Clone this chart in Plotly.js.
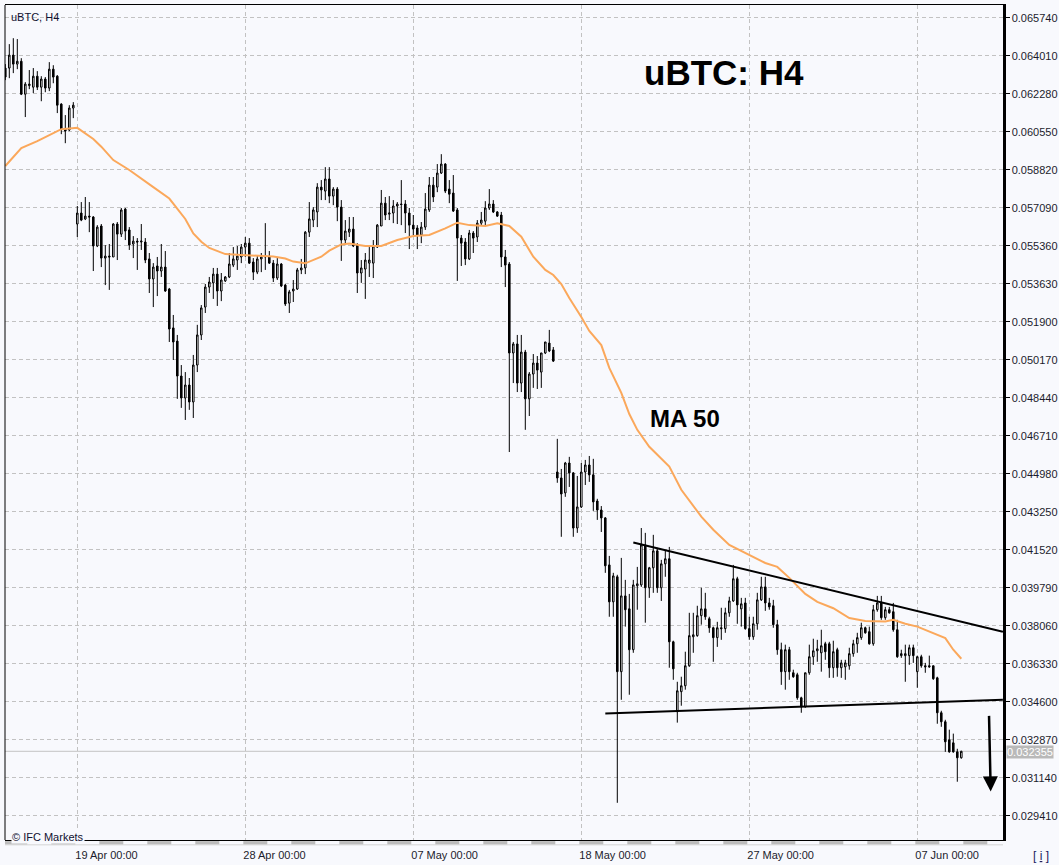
<!DOCTYPE html>
<html><head><meta charset="utf-8">
<script src="https://cdn.plot.ly/plotly-3.0.1.min.js"></script>
<style>html,body{margin:0;padding:0;background:#f8f9fd;}#chart{width:1059px;height:865px;}</style>
</head><body><div id="chart"></div>
<script>
// ---- data (uBTC, H4 candles, bar index 0..239) ----
const openP = [
0.06346,0.06346,0.06405,0.06364,0.06377,0.06227,0.06266,0.06259,0.06309,0.06259,
0.06296,0.06255,0.06341,0.06309,0.06182,0.06068,0.06064,0.06164,0.05636,0.05686,
0.05659,0.05672,0.05668,0.05536,0.05627,0.05481,0.05490,0.05486,0.05636,0.05590,
0.05704,0.05609,0.05545,0.05558,0.05554,0.05554,0.05477,0.05386,0.05445,0.05422,
0.05440,0.05340,0.05163,0.05103,0.04944,0.04844,0.04903,0.04826,0.04994,0.05131,
0.05258,0.05349,0.05368,0.05408,0.05331,0.05377,0.05395,0.05449,0.05472,0.05486,
0.05531,0.05549,0.05463,0.05417,0.05477,0.05486,0.05486,0.05458,0.05390,0.05454,
0.05358,0.05276,0.05331,0.05340,0.05427,0.05436,0.05599,0.05654,0.05691,0.05804,
0.05786,0.05841,0.05763,0.05795,0.05713,0.05563,0.05599,0.05613,0.05540,0.05413,
0.05431,0.05458,0.05458,0.05531,0.05627,0.05731,0.05681,0.05686,0.05718,0.05727,
0.05727,0.05686,0.05631,0.05618,0.05586,0.05622,0.05700,0.05813,0.05804,0.05868,
0.05909,0.05795,0.05777,0.05700,0.05572,0.05554,0.05477,0.05595,0.05577,0.05640,
0.05649,0.05709,0.05727,0.05691,0.05677,0.05486,0.05454,0.05049,0.05090,0.04912,
0.05053,0.04840,0.04953,0.05003,0.04962,0.05049,0.05094,0.05063,0.04507,0.04480,
0.04412,0.04548,0.04503,0.04252,0.04348,0.04507,0.04539,0.04494,0.04375,0.04334,
0.04298,0.04084,0.03916,0.04030,0.03598,0.03943,0.03884,0.03698,0.03989,0.03993,
0.04175,0.03980,0.04071,0.04148,0.03980,0.04089,0.04112,0.03734,0.03416,0.03507,
0.03534,0.03625,0.03757,0.03762,0.03853,0.03884,0.03839,0.03798,0.03753,0.03798,
0.03794,0.03866,0.03920,0.04021,0.03884,0.03911,0.03794,0.03757,0.03816,0.03925,
0.03984,0.03911,0.03898,0.03812,0.03698,0.03598,0.03698,0.03593,0.03584,0.03479,
0.03438,0.03593,0.03666,0.03693,0.03684,0.03725,0.03725,0.03616,0.03698,0.03616,
0.03620,0.03625,0.03680,0.03725,0.03753,0.03798,0.03780,0.03725,0.03880,0.03911,
0.03844,0.03880,0.03871,0.03789,0.03671,0.03671,0.03671,0.03707,0.03598,0.03666,
0.03625,0.03625,0.03625,0.03570,0.03411,0.03370,0.03288,0.03274,0.03233,0.03206
];
const highP = [
0.06364,0.06455,0.06482,0.06478,0.06391,0.06282,0.06337,0.06346,0.06332,0.06309,
0.06305,0.06373,0.06359,0.06314,0.06186,0.06132,0.06177,0.06191,0.05718,0.05736,
0.05759,0.05736,0.05672,0.05631,0.05636,0.05540,0.05545,0.05640,0.05645,0.05709,
0.05709,0.05622,0.05581,0.05572,0.05636,0.05572,0.05504,0.05458,0.05486,0.05545,
0.05513,0.05345,0.05222,0.05131,0.04994,0.04962,0.04935,0.05040,0.05177,0.05267,
0.05363,0.05395,0.05436,0.05436,0.05413,0.05399,0.05504,0.05531,0.05536,0.05545,
0.05577,0.05572,0.05481,0.05495,0.05504,0.05640,0.05513,0.05472,0.05481,0.05458,
0.05363,0.05336,0.05381,0.05436,0.05477,0.05604,0.05736,0.05713,0.05822,0.05836,
0.05895,0.05895,0.05804,0.05804,0.05745,0.05654,0.05668,0.05668,0.05549,0.05472,
0.05504,0.05531,0.05563,0.05636,0.05791,0.05759,0.05763,0.05745,0.05736,0.05836,
0.05745,0.05709,0.05677,0.05631,0.05645,0.05777,0.05850,0.05850,0.05909,0.05954,
0.05913,0.05836,0.05859,0.05709,0.05586,0.05572,0.05609,0.05604,0.05654,0.05691,
0.05740,0.05795,0.05745,0.05695,0.05691,0.05518,0.05463,0.05099,0.05131,0.05131,
0.05063,0.04962,0.05044,0.05035,0.05049,0.05099,0.05154,0.05076,0.04658,0.04521,
0.04553,0.04576,0.04507,0.04489,0.04548,0.04562,0.04580,0.04567,0.04385,0.04352,
0.04302,0.04125,0.04048,0.04039,0.04116,0.04016,0.03952,0.04016,0.04075,0.04252,
0.04230,0.04075,0.04221,0.04162,0.04107,0.04148,0.04166,0.03739,0.03552,0.03575,
0.03689,0.03866,0.03866,0.03898,0.03980,0.03957,0.03848,0.03803,0.03825,0.03889,
0.03889,0.03939,0.04084,0.04030,0.03934,0.03934,0.03848,0.03848,0.03957,0.04030,
0.04030,0.03934,0.03925,0.03834,0.03730,0.03721,0.03711,0.03607,0.03593,0.03484,
0.03593,0.03721,0.03748,0.03743,0.03789,0.03734,0.03734,0.03739,0.03707,0.03652,
0.03652,0.03707,0.03743,0.03775,0.03821,0.03803,0.03803,0.03902,0.03943,0.03943,
0.03893,0.03893,0.03911,0.03834,0.03698,0.03721,0.03721,0.03721,0.03671,0.03675,
0.03638,0.03671,0.03625,0.03575,0.03420,0.03379,0.03334,0.03316,0.03247,0.03238
];
const lowP = [
0.06291,0.06300,0.06323,0.06341,0.06223,0.06123,0.06250,0.06232,0.06246,0.06195,
0.06236,0.06241,0.06277,0.06141,0.06045,0.06004,0.06059,0.06118,0.05577,0.05649,
0.05654,0.05599,0.05422,0.05531,0.05440,0.05358,0.05336,0.05486,0.05472,0.05577,
0.05563,0.05518,0.05481,0.05427,0.05518,0.05458,0.05322,0.05258,0.05308,0.05395,
0.05327,0.05099,0.05017,0.04840,0.04799,0.04744,0.04790,0.04753,0.04962,0.05108,
0.05231,0.05322,0.05295,0.05263,0.05285,0.05372,0.05390,0.05440,0.05427,0.05458,
0.05486,0.05454,0.05381,0.05408,0.05417,0.05427,0.05454,0.05372,0.05381,0.05349,
0.05263,0.05231,0.05281,0.05336,0.05408,0.05408,0.05577,0.05622,0.05622,0.05745,
0.05745,0.05731,0.05722,0.05649,0.05468,0.05540,0.05577,0.05531,0.05322,0.05368,
0.05295,0.05395,0.05390,0.05527,0.05627,0.05654,0.05654,0.05640,0.05636,0.05631,
0.05595,0.05522,0.05586,0.05522,0.05549,0.05609,0.05691,0.05736,0.05781,0.05864,
0.05777,0.05731,0.05691,0.05377,0.05445,0.05449,0.05472,0.05504,0.05554,0.05631,
0.05631,0.05700,0.05686,0.05668,0.05440,0.05349,0.04598,0.04912,0.04871,0.04871,
0.04699,0.04762,0.04890,0.04885,0.04890,0.05044,0.05053,0.05008,0.04458,0.04212,
0.04394,0.04439,0.04212,0.04230,0.04343,0.04448,0.04462,0.04330,0.04289,0.04234,
0.04048,0.03848,0.03848,0.03001,0.03470,0.03803,0.03493,0.03684,0.03880,0.03984,
0.03821,0.03934,0.03957,0.03957,0.03920,0.04030,0.03616,0.03561,0.03366,0.03443,
0.03516,0.03620,0.03684,0.03757,0.03812,0.03834,0.03775,0.03643,0.03711,0.03743,
0.03775,0.03848,0.03916,0.03816,0.03803,0.03789,0.03743,0.03743,0.03789,0.03920,
0.03875,0.03880,0.03798,0.03675,0.03538,0.03516,0.03561,0.03570,0.03470,0.03411,
0.03434,0.03584,0.03629,0.03643,0.03598,0.03652,0.03570,0.03570,0.03575,0.03570,
0.03561,0.03607,0.03666,0.03684,0.03743,0.03771,0.03721,0.03716,0.03871,0.03834,
0.03834,0.03862,0.03780,0.03661,0.03661,0.03552,0.03629,0.03638,0.03525,0.03616,
0.03593,0.03616,0.03561,0.03361,0.03347,0.03233,0.03229,0.03229,0.03097,0.03202
];
const closeP = [
0.06305,0.06405,0.06364,0.06377,0.06227,0.06273,0.06273,0.06309,0.06259,0.06296,
0.06255,0.06341,0.06305,0.06177,0.06068,0.06059,0.06164,0.06177,0.05686,0.05654,
0.05672,0.05668,0.05536,0.05622,0.05481,0.05490,0.05486,0.05636,0.05590,0.05700,
0.05604,0.05540,0.05558,0.05554,0.05558,0.05472,0.05386,0.05440,0.05422,0.05440,
0.05331,0.05158,0.05099,0.04944,0.04844,0.04903,0.04826,0.04994,0.05131,0.05254,
0.05349,0.05372,0.05408,0.05331,0.05381,0.05395,0.05454,0.05477,0.05490,0.05531,
0.05549,0.05458,0.05417,0.05477,0.05486,0.05490,0.05458,0.05390,0.05454,0.05354,
0.05272,0.05327,0.05340,0.05427,0.05436,0.05599,0.05659,0.05700,0.05804,0.05791,
0.05841,0.05763,0.05795,0.05713,0.05563,0.05604,0.05613,0.05536,0.05413,0.05436,
0.05472,0.05472,0.05536,0.05631,0.05731,0.05677,0.05686,0.05718,0.05727,0.05725,
0.05686,0.05631,0.05613,0.05586,0.05622,0.05704,0.05813,0.05759,0.05868,0.05909,
0.05786,0.05772,0.05695,0.05572,0.05549,0.05477,0.05595,0.05572,0.05640,0.05654,
0.05709,0.05727,0.05691,0.05672,0.05486,0.05449,0.05049,0.05090,0.04912,0.05053,
0.04840,0.04953,0.05003,0.04971,0.05049,0.05099,0.05058,0.05012,0.04480,0.04407,
0.04548,0.04503,0.04252,0.04348,0.04507,0.04539,0.04494,0.04371,0.04334,0.04298,
0.04080,0.03916,0.04034,0.03598,0.03943,0.03880,0.03698,0.03993,0.03998,0.04175,
0.03980,0.04071,0.04148,0.03980,0.04089,0.04112,0.03734,0.03611,0.03511,0.03534,
0.03625,0.03762,0.03766,0.03853,0.03884,0.03848,0.03798,0.03753,0.03798,0.03794,
0.03866,0.03920,0.04021,0.03902,0.03907,0.03794,0.03757,0.03816,0.03925,0.03984,
0.03911,0.03893,0.03812,0.03698,0.03598,0.03698,0.03598,0.03575,0.03479,0.03438,
0.03593,0.03666,0.03693,0.03702,0.03716,0.03689,0.03616,0.03689,0.03616,0.03638,
0.03638,0.03680,0.03725,0.03753,0.03798,0.03775,0.03725,0.03880,0.03911,0.03844,
0.03880,0.03866,0.03789,0.03666,0.03680,0.03680,0.03707,0.03671,0.03666,0.03625,
0.03620,0.03620,0.03566,0.03411,0.03370,0.03279,0.03233,0.03233,0.03206,0.032355
];
// MA 50 (bar index, value)
const maX = [0,4,8,12,14,18,22,24,27,31,34,37,41,44,45,47,49,51,55,59,63,67,70,72,75,79,81,84,86,90,94,98,102,106,110,113,116,120,123,126,129,132,135,137,139,141,144,146,149,151,154,156,158,161,166,169,174,177,181,186,190,193,196,200,203,207,211,215,220,222,225,228,232,235,237,239];
const maY = [0.05900,0.05982,0.06013,0.06050,0.06068,0.06074,0.06023,0.05988,0.05927,0.05882,0.05845,0.05804,0.05752,0.05686,0.05659,0.05593,0.05555,0.05527,0.05499,0.05495,0.05492,0.05488,0.05479,0.05465,0.05457,0.05487,0.05515,0.05543,0.05547,0.05536,0.05536,0.05563,0.05581,0.05586,0.05616,0.05642,0.05631,0.05627,0.05639,0.05627,0.05578,0.05487,0.05427,0.05404,0.05363,0.05299,0.05213,0.05149,0.05085,0.04981,0.04867,0.04771,0.04699,0.04622,0.04532,0.04426,0.04304,0.04244,0.04175,0.04130,0.04093,0.04075,0.04025,0.03952,0.03916,0.03887,0.03842,0.03829,0.03826,0.03834,0.03816,0.03803,0.03773,0.03751,0.03698,0.03657];
// trend lines (bar index, value)
const upperX = [157, 249.4], upperY = [0.04186, 0.03780];
const lowerX = [150, 249.4], lowerY = [0.03408, 0.03470];
// axis ticks
const xTickVals = [18, 60, 102, 144, 186, 228];
const xTickText = ['19 Apr 00:00','28 Apr 00:00','07 May 00:00','18 May 00:00','27 May 00:00','07 Jun 00:00'];
const yTickVals = [0.06574,0.06401,0.06228,0.06055,0.05882,0.05709,0.05536,0.05363,0.05190,0.05017,0.04844,0.04671,0.04498,0.04325,0.04152,0.03979,0.03806,0.03633,0.03460,0.03287,0.03114,0.02941];
const yTickText = yTickVals.map(v => v.toFixed(6));
const lastPrice = 0.032355;
const arrowTip = [246.35, 0.03053];

// ---- drawing ----
const BG = '#f8f9fd';
const FONT = 'Arial, "Liberation Sans", sans-serif';
const XR = [-0.075, 249.425];
const YR = [0.028317, 0.066331];
const idx = openP.map((_, i) => i);

const traces = [
  {type:'candlestick', x: idx, open: openP, high: highP, low: lowP, close: closeP,
   increasing:{line:{color:'#000000', width:1}, fillcolor:'#ffffff'},
   decreasing:{line:{color:'#000000', width:1}, fillcolor:'#000000'},
   whiskerwidth:0, hoverinfo:'skip', showlegend:false},
  {type:'scatter', mode:'lines', x: maX, y: maY,
   line:{color:'#fba85b', width:2}, hoverinfo:'skip', showlegend:false}
];

const toPaperX = k => (k - XR[0]) / (XR[1] - XR[0]);
const shapes = [
  {type:'line', xref:'paper', x0:0, x1:1, yref:'y', y0:lastPrice, y1:lastPrice,
   line:{color:'#c4c4c4', width:1}, layer:'between'},
  {type:'line', xref:'x', yref:'y', x0:upperX[0], x1:upperX[1], y0:upperY[0], y1:upperY[1],
   line:{color:'#000', width:2}, layer:'above'},
  {type:'line', xref:'x', yref:'y', x0:lowerX[0], x1:lowerX[1], y0:lowerY[0], y1:lowerY[1],
   line:{color:'#000', width:2}, layer:'above'},
  {type:'line', xref:'paper', yref:'paper', x0:0, x1:0, y0:0, y1:1,
   line:{color:'#000', width:1}, layer:'above'}
];
// day strip under the chart (alternate days shaded)
for (let d = -3; d <= 39; d += 2) {
  const k0 = Math.max(XR[0], 18 + 6*d - 0.5), k1 = Math.min(XR[1], 18 + 6*d + 5.5);
  if (k1 <= k0) continue;
  shapes.push({type:'rect', xref:'paper', yref:'paper', x0:toPaperX(k0), x1:toPaperX(k1),
    y0:-0.0055, y1:-0.0013, fillcolor:'#bcbcbc', line:{width:0}, layer:'above'});
}
shapes.push({type:'line', xref:'paper', yref:'paper', x0:0, x1:1, y0:-0.0058, y1:-0.0058,
  line:{color:'#d4d4d4', width:1}});

const annotations = [
  {xref:'paper', yref:'paper', x:0.7204, y:0.9186, text:'<b>uBTC: H4</b>', showarrow:false,
   font:{family:FONT, size:35, color:'#000'}, xanchor:'center', yanchor:'middle'},
  {xref:'paper', yref:'paper', x:0.6814, y:0.5042, text:'<b>MA 50</b>', showarrow:false,
   font:{family:FONT, size:24, color:'#000'}, xanchor:'center', yanchor:'middle'},
  {xref:'paper', yref:'paper', x:0.004, y:0.9856, text:'uBTC, H4', showarrow:false,
   font:{family:FONT, size:11, color:'#101030'}, xanchor:'left', yanchor:'middle'},
  {xref:'paper', yref:'paper', x:0.006, y:0.004, text:'© IFC Markets', showarrow:false,
   font:{family:FONT, size:11, color:'#101030'}, xanchor:'left', yanchor:'middle',
   bgcolor:BG, borderpad:0},
  {xref:'paper', yref:'y', x:1, y:lastPrice, xshift:3, yshift:-1, text:lastPrice.toFixed(6), showarrow:false,
   font:{family:FONT, size:11, color:'#ffffff'}, xanchor:'left', yanchor:'middle',
   bgcolor:'#b9b9b9', borderpad:0},
  {xref:'paper', yref:'paper', x:1.038, y:-0.0186, text:'[ <span style="text-decoration:underline">i</span> ]', showarrow:false,
   font:{family:FONT, size:12, color:'#202060'}, xanchor:'center', yanchor:'middle'},
  {xref:'x', yref:'y', x:arrowTip[0], y:arrowTip[1], ax:-1.7, ay:-77, axref:'pixel', ayref:'pixel',
   text:'', showarrow:true, arrowhead:2, arrowsize:1.2, arrowwidth:2.5, arrowcolor:'#000', standoff:0}
];

const layout = {
  width:1059, height:865,
  margin:{l:5, r:56, t:5, b:25, pad:0},
  paper_bgcolor:BG, plot_bgcolor:BG,
  showlegend:false, hovermode:false,
  boxgap:0.45,
  font:{family:FONT, size:12, color:'#1c1c2c'},
  xaxis:{type:'linear', range:XR, rangeslider:{visible:false}, fixedrange:true,
    tickmode:'array', tickvals:xTickVals, ticktext:xTickText,
    ticks:'outside', ticklen:3, tickcolor:'rgba(0,0,0,0)',
    ticklabelposition:'outside right', ticklabelstandoff:5, ticklabelshift:-3,
    tickfont:{family:FONT, size:11, color:'#1c1c2c'},
    showgrid:true, gridcolor:'#c2c2c2', griddash:'4px,3px', gridwidth:1,
    showline:true, linecolor:'#000', linewidth:1, mirror:true, zeroline:false},
  yaxis:{type:'linear', range:YR, side:'right', fixedrange:true,
    tickmode:'array', tickvals:yTickVals, ticktext:yTickText,
    ticks:'outside', ticklen:4, tickcolor:'#000', tickwidth:1,
    tickfont:{family:FONT, size:11, color:'#1c1c2c'},
    showgrid:true, gridcolor:'#c2c2c2', griddash:'4px,3px', gridwidth:1,
    showline:true, linecolor:'#000', linewidth:2.5, zeroline:false},
  shapes:shapes, annotations:annotations
};

Plotly.newPlot('chart', traces, layout, {staticPlot:true, displayModeBar:false});
</script>
</body></html>
